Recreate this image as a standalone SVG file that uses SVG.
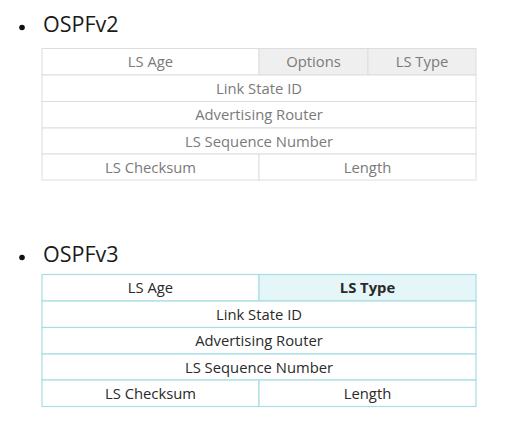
<svg xmlns="http://www.w3.org/2000/svg" width="512" height="435" viewBox="0 0 512 435">
<style>
.t{font-family:"Open Sans","Noto Sans",sans-serif;font-size:14.8px;text-anchor:middle}
.g{fill:#7a7a7a}
.d{fill:#2a2a2a}
.h{font-family:"Open Sans","Noto Sans",sans-serif;font-size:21.5px;fill:#1a1a1a}
.c2{fill:#fff;stroke:#dedede;stroke-width:1}
.c2g{fill:#efefef;stroke:#dedede;stroke-width:1}
.c3{fill:#fff;stroke:#a9dde6;stroke-width:1.2}
.c3f{fill:#e5f6f8;stroke:#a9dde6;stroke-width:1.2}
</style>
<rect width="512" height="435" fill="#fff"/>
<g id="title-v2">
<circle cx="22" cy="27.5" r="2.8" fill="#111"/>
<text class="h" x="43" y="32">OSPFv2</text>
</g>
<g id="table-v2">
<rect class="c2" x="42" y="48.5" width="217" height="26.5"/>
<rect class="c2g" x="259" y="48.5" width="109" height="26.5"/>
<rect class="c2g" x="368" y="48.5" width="108" height="26.5"/>
<rect class="c2" x="42" y="75" width="434" height="26.5"/>
<rect class="c2" x="42" y="101.5" width="434" height="26.5"/>
<rect class="c2" x="42" y="128" width="434" height="26"/>
<rect class="c2" x="42" y="154" width="217" height="26"/>
<rect class="c2" x="259" y="154" width="217" height="26"/>
<text class="t g" x="150.5" y="67">LS Age</text>
<text class="t g" x="313.5" y="67">Options</text>
<text class="t g" x="422" y="67">LS Type</text>
<text class="t g" x="259" y="93.5">Link State ID</text>
<text class="t g" x="259" y="120">Advertising Router</text>
<text class="t g" x="259" y="146.5">LS Sequence Number</text>
<text class="t g" x="150.5" y="172.5">LS Checksum</text>
<text class="t g" x="367.5" y="172.5">Length</text>
</g>
<g id="title-v3">
<circle cx="22" cy="257.5" r="2.8" fill="#111"/>
<text class="h" x="43" y="262">OSPFv3</text>
</g>
<g id="table-v3">
<rect class="c3" x="42" y="274.5" width="217" height="26.5"/>
<rect class="c3f" x="259" y="274.5" width="217" height="26.5"/>
<rect class="c3" x="42" y="301" width="434" height="26.5"/>
<rect class="c3" x="42" y="327.5" width="434" height="26.5"/>
<rect class="c3" x="42" y="354" width="434" height="26"/>
<rect class="c3" x="42" y="380" width="217" height="26.5"/>
<rect class="c3" x="259" y="380" width="217" height="26.5"/>
<text class="t d" x="150.5" y="293">LS Age</text>
<text class="t d" x="367.5" y="293" font-weight="bold">LS Type</text>
<text class="t d" x="259" y="319.5">Link State ID</text>
<text class="t d" x="259" y="346">Advertising Router</text>
<text class="t d" x="259" y="372.5">LS Sequence Number</text>
<text class="t d" x="150.5" y="398.5">LS Checksum</text>
<text class="t d" x="367.5" y="398.5">Length</text>
</g>
</svg>
